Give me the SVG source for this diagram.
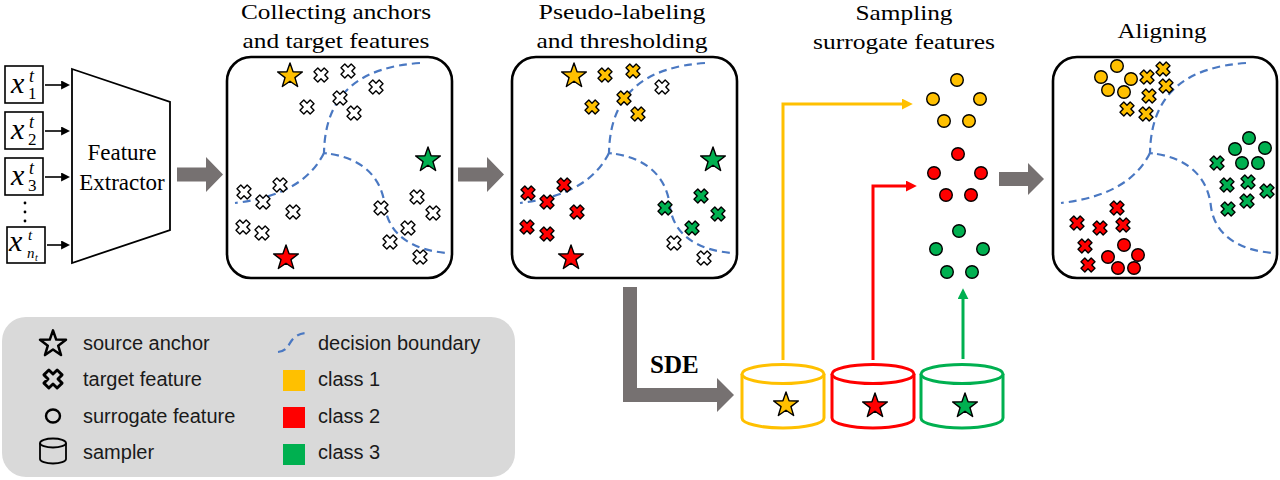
<svg xmlns="http://www.w3.org/2000/svg" xmlns:xlink="http://www.w3.org/1999/xlink" width="1280" height="480" viewBox="0 0 1280 480">
<style>
.panel{fill:#fff;stroke:#000;stroke-width:2.6}
.title{font-family:"Liberation Serif","Times New Roman",serif;font-size:22px;fill:#000;text-anchor:middle}
.db{fill:none;stroke:#4A78C2;stroke-width:2.2;stroke-dasharray:8 5}
.pt{stroke:#000;stroke-width:1.4;stroke-linejoin:round}
.w{fill:#fff}
.y{fill:#FFC000}
.r{fill:#FF0000}
.g{fill:#00B050}
.gray{fill:#767171}
.leg{font-family:"Liberation Sans",Arial,sans-serif;font-size:20px;fill:#1a1a1a}
.math{font-family:"Liberation Serif","Times New Roman",serif;fill:#000;font-style:italic}
.ibox{fill:#fff;stroke:#000;stroke-width:1.6}
.thin{stroke:#000;stroke-width:1.6;fill:none}
</style>
<defs>
<path id="xs" d="M3.18,-7 L7,-3.18 L3.82,0 L7,3.18 L3.18,7 L0,3.82 L-3.18,7 L-7,3.18 L-3.82,0 L-7,-3.18 L-3.18,-7 L0,-3.82 Z"/>
<path id="st" d="M0,-13 L3.06,-4.21 L12.36,-4.02 L4.95,1.61 L7.64,10.52 L0,5.2 L-7.64,10.52 L-4.95,1.61 L-12.36,-4.02 L-3.06,-4.21 Z"/>
<circle id="ci" r="6.3"/>
<g id="dbound" class="db">
<path d="M193,6 C135,10 98,35 97,96 L104,97"/>
<path d="M104,97 C135,102 155,120 158,150 C162,178 185,193 220,196"/>
<path d="M97,96 C85,120 60,140 8,146"/>
</g>
<marker id="ah" viewBox="0 0 10 10" refX="1" refY="5" markerWidth="9" markerHeight="9" markerUnits="userSpaceOnUse" orient="auto"><path d="M0,0 L10,5 L0,10 Z" fill="#000"/></marker>
<marker id="ay" viewBox="0 0 10 10" refX="2" refY="5" markerWidth="11" markerHeight="11" markerUnits="userSpaceOnUse" orient="auto"><path d="M0,0 L10,5 L0,10 Z" fill="#FFC000"/></marker>
<marker id="ar" viewBox="0 0 10 10" refX="2" refY="5" markerWidth="11" markerHeight="11" markerUnits="userSpaceOnUse" orient="auto"><path d="M0,0 L10,5 L0,10 Z" fill="#FF0000"/></marker>
<marker id="ag" viewBox="0 0 10 10" refX="2" refY="5" markerWidth="11" markerHeight="11" markerUnits="userSpaceOnUse" orient="auto"><path d="M0,0 L10,5 L0,10 Z" fill="#00B050"/></marker>
</defs>

<!-- Inputs -->
<g id="inputs">
<g id="x1"><rect class="ibox" x="5" y="66" width="38" height="37"/>
<text class="math"><tspan x="11" y="93" font-size="30">x</tspan><tspan x="29" y="82" font-size="18">t</tspan><tspan x="28" y="99" font-size="17" font-style="normal">1</tspan></text></g>
<g id="x2"><rect class="ibox" x="5" y="112" width="38" height="37"/>
<text class="math"><tspan x="11" y="139" font-size="30">x</tspan><tspan x="29" y="128" font-size="18">t</tspan><tspan x="28" y="145" font-size="17" font-style="normal">2</tspan></text></g>
<g id="x3"><rect class="ibox" x="5" y="158" width="38" height="37"/>
<text class="math"><tspan x="11" y="185" font-size="30">x</tspan><tspan x="29" y="174" font-size="18">t</tspan><tspan x="28" y="191" font-size="17" font-style="normal">3</tspan></text></g>
<g id="dots" fill="#000"><circle cx="25" cy="203" r="1.4"/><circle cx="25" cy="212" r="1.4"/><circle cx="25" cy="221" r="1.4"/></g>
<g id="xn"><rect class="ibox" x="7" y="227" width="38" height="36"/>
<text class="math"><tspan x="9" y="251" font-size="30">x</tspan><tspan x="28" y="240" font-size="15">t</tspan><tspan x="27" y="258" font-size="15">n</tspan><tspan x="35" y="261" font-size="10">t</tspan></text></g>
</g>

<g id="extractor">
<path d="M72,69 L170,102 L170,230 L72,263 Z" fill="#fff" stroke="#000" stroke-width="1.8"/>
<text x="122" y="160" font-family="'Liberation Serif','Times New Roman',serif" font-size="23" text-anchor="middle">Feature</text>
<text x="122" y="190" font-family="'Liberation Serif','Times New Roman',serif" font-size="23" text-anchor="middle">Extractor</text>
</g>

<g id="connectors">
<line class="thin" x1="45" y1="85" x2="62" y2="85" marker-end="url(#ah)"/>
<line class="thin" x1="45" y1="131" x2="62" y2="131" marker-end="url(#ah)"/>
<line class="thin" x1="45" y1="177" x2="62" y2="177" marker-end="url(#ah)"/>
<line class="thin" x1="47" y1="245" x2="62" y2="245" marker-end="url(#ah)"/>
<path class="gray" d="M177,167.5 L206,167.5 L206,157 L223,174.5 L206,192 L206,181.5 L177,181.5 Z"/>
<path class="gray" d="M458,167.5 L487,167.5 L487,157 L504,174.5 L487,192 L487,181.5 L458,181.5 Z"/>
<path class="gray" d="M999,172 L1028,172 L1028,163 L1044,179 L1028,195 L1028,186 L999,186 Z"/>
<path class="gray" d="M623,287 L637,287 L637,388 L717,388 L717,378 L734,395 L717,412 L717,402 L623,402 Z"/>
<path d="M783,360 L783,104 L904,104" fill="none" stroke="#FFC000" stroke-width="3" marker-end="url(#ay)"/>
<path d="M873,360 L873,186 L908,186" fill="none" stroke="#FF0000" stroke-width="3" marker-end="url(#ar)"/>
<path d="M963,359 L963,297" fill="none" stroke="#00B050" stroke-width="3" marker-end="url(#ag)"/>
</g>
<text id="sde" x="650" y="373" font-family="'Liberation Serif','Times New Roman',serif" font-size="25" font-weight="bold">SDE</text>

<!-- Panel 1 -->
<g id="panel1">
<text class="title" x="336" y="19" textLength="190" lengthAdjust="spacingAndGlyphs">Collecting anchors</text>
<text class="title" x="336" y="48" textLength="187" lengthAdjust="spacingAndGlyphs">and target features</text>
<rect class="panel" x="227" y="57" width="225" height="221" rx="24"/>
<use href="#dbound" transform="translate(227,57)"/>
<use href="#st" class="pt y" x="290" y="76"/>
<use href="#st" class="pt g" x="428" y="160"/>
<use href="#st" class="pt r" x="286" y="258"/>
<g class="pt w">
<use href="#xs" x="321" y="75"/><use href="#xs" x="348" y="71"/><use href="#xs" x="376" y="87"/>
<use href="#xs" x="340" y="98"/><use href="#xs" x="307" y="107"/><use href="#xs" x="354" y="113"/>
<use href="#xs" x="244" y="192"/><use href="#xs" x="280" y="185"/><use href="#xs" x="263" y="202"/>
<use href="#xs" x="293" y="212"/><use href="#xs" x="243" y="227"/><use href="#xs" x="262" y="233"/>
<use href="#xs" x="417" y="197"/><use href="#xs" x="381" y="208"/><use href="#xs" x="433" y="213"/>
<use href="#xs" x="408" y="228"/><use href="#xs" x="390" y="242"/><use href="#xs" x="420" y="257"/>
</g>
</g>

<!-- Panel 2 -->
<g id="panel2">
<text class="title" x="622" y="19" textLength="167" lengthAdjust="spacingAndGlyphs">Pseudo-labeling</text>
<text class="title" x="622" y="48" textLength="171" lengthAdjust="spacingAndGlyphs">and thresholding</text>
<rect class="panel" x="512" y="57" width="225" height="221" rx="24"/>
<use href="#dbound" transform="translate(512,57)"/>
<use href="#st" class="pt y" x="574" y="76"/>
<use href="#st" class="pt g" x="713" y="160"/>
<use href="#st" class="pt r" x="571" y="258"/>
<g class="pt y">
<use href="#xs" x="605" y="75"/><use href="#xs" x="633" y="71"/><use href="#xs" x="624" y="98"/>
<use href="#xs" x="592" y="107"/><use href="#xs" x="638" y="114"/>
</g>
<g class="pt w">
<use href="#xs" x="662" y="87"/><use href="#xs" x="674" y="243"/><use href="#xs" x="704" y="258"/>
</g>
<g class="pt r">
<use href="#xs" x="528" y="193"/><use href="#xs" x="564" y="185"/><use href="#xs" x="547" y="202"/>
<use href="#xs" x="577" y="212"/><use href="#xs" x="527" y="227"/><use href="#xs" x="547" y="234"/>
</g>
<g class="pt g">
<use href="#xs" x="701" y="196"/><use href="#xs" x="665" y="208"/><use href="#xs" x="718" y="214"/>
<use href="#xs" x="692" y="228"/>
</g>
</g>

<!-- Panel 3: sampling -->
<g id="panel3">
<text class="title" x="904" y="20" textLength="97" lengthAdjust="spacingAndGlyphs">Sampling</text>
<text class="title" x="904" y="49" textLength="182" lengthAdjust="spacingAndGlyphs">surrogate features</text>
<g class="pt y">
<use href="#ci" x="957" y="80"/><use href="#ci" x="933" y="99"/><use href="#ci" x="980" y="99"/>
<use href="#ci" x="944" y="121"/><use href="#ci" x="969" y="121"/>
</g>
<g class="pt r">
<use href="#ci" x="958" y="154"/><use href="#ci" x="934" y="173"/><use href="#ci" x="981" y="173"/>
<use href="#ci" x="946" y="195"/><use href="#ci" x="971" y="195"/>
</g>
<g class="pt g">
<use href="#ci" x="959" y="231"/><use href="#ci" x="936" y="249"/><use href="#ci" x="983" y="249"/>
<use href="#ci" x="947" y="272"/><use href="#ci" x="972" y="272"/>
</g>
</g>

<!-- Samplers -->
<g id="sampler1">
<path d="M742,374 L742,418 A41,10 0 0 0 824,418 L824,374" fill="#fff" stroke="#FFC000" stroke-width="3"/>
<ellipse cx="783" cy="374" rx="41" ry="9.5" fill="#fff" stroke="#FFC000" stroke-width="3"/>
<use href="#st" class="pt y" x="786" y="405"/>
</g>
<g id="sampler2">
<path d="M832,374 L832,418 A41,10 0 0 0 914,418 L914,374" fill="#fff" stroke="#FF0000" stroke-width="3"/>
<ellipse cx="873" cy="374" rx="41" ry="9.5" fill="#fff" stroke="#FF0000" stroke-width="3"/>
<use href="#st" class="pt r" x="875" y="406"/>
</g>
<g id="sampler3">
<path d="M921,374 L921,418 A41,10 0 0 0 1003,418 L1003,374" fill="#fff" stroke="#00B050" stroke-width="3"/>
<ellipse cx="962" cy="374" rx="41" ry="9.5" fill="#fff" stroke="#00B050" stroke-width="3"/>
<use href="#st" class="pt g" x="965" y="406"/>
</g>

<!-- Panel 4: aligning -->
<g id="panel4">
<text class="title" x="1162" y="38" textLength="89" lengthAdjust="spacingAndGlyphs">Aligning</text>
<rect class="panel" x="1053" y="57" width="224" height="221" rx="24"/>
<use href="#dbound" transform="translate(1053,57)"/>
<g class="pt y">
<use href="#ci" x="1117" y="66"/><use href="#ci" x="1101" y="77"/><use href="#ci" x="1131" y="79"/>
<use href="#ci" x="1108" y="90"/><use href="#ci" x="1124" y="92"/>
<use href="#xs" x="1163" y="69"/><use href="#xs" x="1147" y="77"/><use href="#xs" x="1166" y="86"/>
<use href="#xs" x="1149" y="96"/><use href="#xs" x="1127" y="109"/><use href="#xs" x="1146" y="114"/>
</g>
<g class="pt g">
<use href="#ci" x="1249" y="138"/><use href="#ci" x="1235" y="149"/><use href="#ci" x="1265" y="148"/>
<use href="#ci" x="1242" y="163"/><use href="#ci" x="1258" y="163"/>
<use href="#xs" x="1217" y="163"/><use href="#xs" x="1227" y="185"/><use href="#xs" x="1248" y="182"/>
<use href="#xs" x="1267" y="191"/><use href="#xs" x="1247" y="201"/><use href="#xs" x="1228" y="209"/>
</g>
<g class="pt r">
<use href="#xs" x="1117" y="208"/><use href="#xs" x="1077" y="223"/><use href="#xs" x="1100" y="228"/>
<use href="#xs" x="1123" y="225"/><use href="#xs" x="1085" y="246"/><use href="#xs" x="1088" y="265"/>
<use href="#ci" x="1124" y="245"/><use href="#ci" x="1108" y="257"/><use href="#ci" x="1138" y="255"/>
<use href="#ci" x="1118" y="268"/><use href="#ci" x="1134" y="268"/>
</g>
</g>

<!-- Legend -->
<g id="legend">
<rect x="2" y="317" width="513" height="160" rx="24" fill="#D9D9D9"/>
<use href="#st" x="53" y="344" fill="none" stroke="#000" stroke-width="2.4" stroke-linejoin="round" transform="translate(53,344) scale(1.05) translate(-53,-344)"/>
<use href="#xs" x="53" y="379" fill="none" stroke="#000" stroke-width="2.2" stroke-linejoin="round" transform="translate(53,379) scale(1.3) translate(-53,-379)"/>
<ellipse cx="53" cy="416" rx="7" ry="6.5" fill="none" stroke="#000" stroke-width="2.4"/>
<path d="M40,443 L40,459 A13,4.5 0 0 0 66,459 L66,443" fill="none" stroke="#000" stroke-width="1.8"/>
<ellipse cx="53" cy="443" rx="13" ry="4.5" fill="none" stroke="#000" stroke-width="1.8"/>
<text class="leg" x="83" y="350">source anchor</text>
<text class="leg" x="83" y="386">target feature</text>
<text class="leg" x="83" y="423">surrogate feature</text>
<text class="leg" x="83" y="459">sampler</text>
<path d="M278,352 C289,351 289,341 295,337 C299,334 303,333 308,333" class="db"/>
<rect x="283" y="370" width="22" height="21" fill="#FFC000"/>
<rect x="283" y="407" width="22" height="21" fill="#FF0000"/>
<rect x="283" y="444" width="22" height="21" fill="#00B050"/>
<text class="leg" x="318" y="350">decision boundary</text>
<text class="leg" x="318" y="386">class 1</text>
<text class="leg" x="318" y="423">class 2</text>
<text class="leg" x="318" y="459">class 3</text>
</g>
</svg>
